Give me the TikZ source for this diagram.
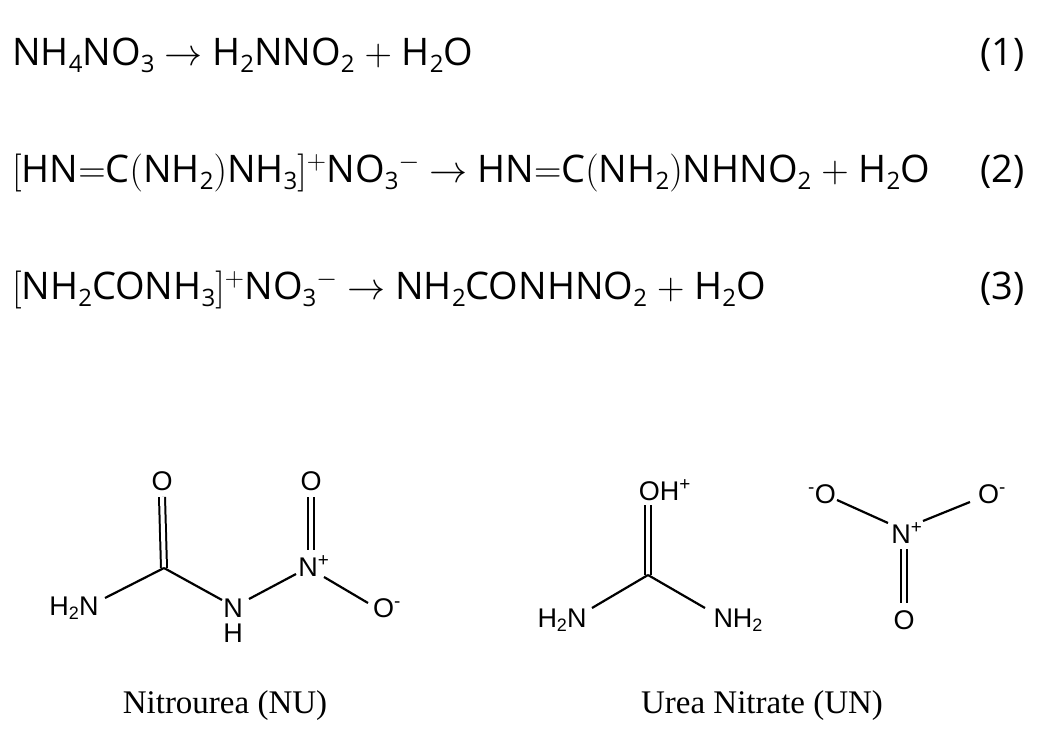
\RequirePackage{fix-cm}
\documentclass[tikz,border=0pt]{standalone}
\usepackage{fontspec}
\setmainfont{Open Sans}
\newfontfamily\arialf{Liberation Sans}
\newfontfamily\timesf{Liberation Serif}
\newcommand{\sbs}[1]{\raisebox{-7pt}{\fontsize{24}{24}\selectfont #1}}
\newcommand{\asb}[1]{\raisebox{-4pt}{\fontsize{18}{18}\selectfont #1}}
\begin{document}
\begin{tikzpicture}[x=1pt,y=-1pt,
  eq/.style={anchor=base west,inner sep=0pt,font=\fontsize{38}{44}\selectfont},
  num/.style={anchor=base east,inner sep=0pt,font=\fontsize{38}{44}\selectfont},
  atom/.style={inner sep=0pt,font=\arialf\fontsize{27}{30}\selectfont},
  captxt/.style={inner sep=0pt,font=\timesf\fontsize{33}{36}\selectfont},
  bond/.style={line width=2.2pt},
  dbl/.style={double distance=4pt,line width=2pt}]
\useasboundingbox (0,0) rectangle (1045,735);
\node[eq] (e1) at (12,66) {NH\sbs{4}NO\sbs{3} $\rightarrow$ H\sbs{2}NNO\sbs{2} $+$ H\sbs{2}O};
\node[num] (n1) at (1025,66) {(1)};
\node[eq] (e2) at (12,183) {$[$HN$=$C$($NH\sbs{2}$)$NH\sbs{3}$]^{+}$NO\sbs{3}$^{-}$ $\rightarrow$ HN$=$C$($NH\sbs{2}$)$NHNO\sbs{2} $+$ H\sbs{2}O};
\node[num] (n2) at (1025,183) {(2)};
\node[eq] (e3) at (12,300) {$[$NH\sbs{2}CONH\sbs{3}$]^{+}$NO\sbs{3}$^{-}$ $\rightarrow$ NH\sbs{2}CONHNO\sbs{2} $+$ H\sbs{2}O};
\node[num] (n3) at (1025,300) {(3)};
% Nitrourea
\coordinate (c1) at (164,568);
\node[atom] (o1) at (162,481) {O};
\node[atom] (h2n1) at (74,608) {H\asb{2}N};
\node[atom] (nh) at (233,608) {N};
\node[atom] (hh) at (233,633) {H};
\node[atom] (np) at (314,566) {N\textsuperscript{+}};
\node[atom] (o2) at (311,481) {O};
\node[atom] (om) at (387,608) {O\textsuperscript{-}};
\draw[dbl] (162,497) -- (c1);
\draw[bond] (c1) -- (105,598);
\draw[bond] (c1) -- (222,600);
\draw[bond] (249,599) -- (296,574);
\draw[bond] (324,577) -- (368,603);
\draw[dbl] (311,497) -- (311,550);
% Urea nitrate
\coordinate (c2) at (648,575);
\node[atom] (oh) at (665,490) {OH\textsuperscript{+}};
\node[atom] (h2n2) at (562,620) {H\asb{2}N};
\node[atom] (nh2) at (738,620) {NH\asb{2}};
\node[atom] (ol) at (822,494) {\textsuperscript{-}O};
\node[atom] (or) at (992,494) {O\textsuperscript{-}};
\node[atom] (nn) at (907,533) {N\textsuperscript{+}};
\node[atom] (ob) at (904,620) {O};
\draw[dbl] (648,505) -- (c2);
\draw[bond] (c2) -- (592,608);
\draw[bond] (c2) -- (705,608);
\draw[bond] (837,500) -- (888,523);
\draw[bond] (923,521) -- (970,502);
\draw[dbl] (904,549) -- (904,603);
\node[captxt] (cap1) at (225,706) {Nitrourea (NU)};
\node[captxt] (cap2) at (762,706) {Urea Nitrate (UN)};
\end{tikzpicture}
\end{document}
